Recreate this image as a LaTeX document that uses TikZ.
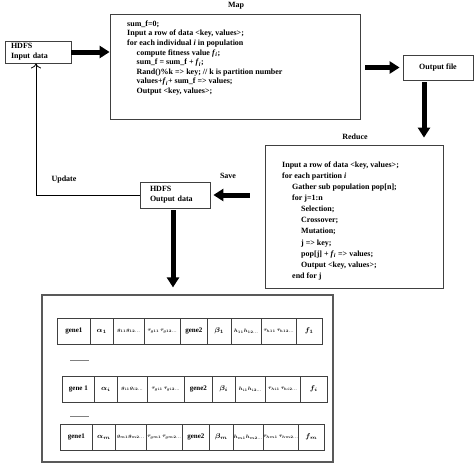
\documentclass[tikz,border=0pt]{standalone}
\usepackage{fontspec}
\setmainfont{Liberation Serif}
\usetikzlibrary{arrows.meta}
\newcommand{\ind}{\hspace*{9.5pt}}
\newcommand{\sm}[1]{\scalebox{0.72}{$#1$}}
\newcommand{\gcell}[5]{\node[cell, minimum width={#4pt-#3pt}] (#1) at (#3,#2) {#5};}
\begin{document}
\begin{tikzpicture}[x=1pt,y=-1pt,
  box/.style={draw=black!75, line width=0.8pt, inner sep=0pt},
  lbl/.style={font=\fontsize{8}{9.6}\selectfont\bfseries, inner sep=0pt},
  code/.style={font=\fontsize{8}{9.6}\selectfont\bfseries, align=left, anchor=north west, inner sep=0pt},
  bigarrow/.style={line width=5pt, -{Triangle[length=10pt,width=12pt]}},
  cell/.style={draw=black!75, line width=0.7pt, minimum height=26pt, inner sep=0pt, anchor=west, font=\fontsize{7}{8}\selectfont\bfseries\boldmath},
]
\useasboundingbox (0,0) rectangle (474,466);

% boxes
\node[box, minimum width=66pt, minimum height=22pt, text width=54pt, inner xsep=6pt, align=left, lbl] (in) at (38,52) {HDFS\\Input data};
\node[box, minimum width=250pt, minimum height=105pt] (map) at (235,66.5) {};
\node[lbl] (maplbl) at (236,6) {Map};
\node[code] (mapcode) at (127,20.5) {sum\_f=0;\\
Input a row of data <key, values>;\\
for each individual \textit{i} in population\\
\ind compute fitness value \textit{f}\textsubscript{\textit{i}};\\
\ind sum\_f = sum\_f + \textit{f}\textsubscript{\textit{i}};\\
\ind Rand()\%k => key; // k is partition number\\
\ind values+\textit{f}\textsubscript{\textit{i}}+ sum\_f => values;\\
\ind Output <key, values>;};
\node[box, minimum width=70pt, minimum height=25pt, lbl] (out) at (438,67.5) {Output file};
\node[lbl] (redlbl) at (355,137) {Reduce};
\node[box, minimum width=178pt, minimum height=143pt] (red) at (354,216.5) {};
\node[code, font=\fontsize{8}{11.1}\selectfont\bfseries] (redcode) at (282,161.5) {Input a row of data <key, values>;\\
for each partition \textit{i}\\
\hspace*{10pt}Gather sub population pop[n];\\
\hspace*{10pt}for j=1:n\\
\hspace*{19pt}Selection;\\
\hspace*{19pt}Crossover;\\
\hspace*{19pt}Mutation;\\
\hspace*{19pt}j => key;\\
\hspace*{19pt}pop[j] + \textit{f}\textsubscript{\textit{i}} => values;\\
\hspace*{19pt}Output <key, values>;\\
\hspace*{10pt}end for j};
\node[box, minimum width=70pt, minimum height=26pt, text width=50pt, inner xsep=10pt, align=left, lbl] (hout) at (175,195) {HDFS\\Output data};
\node[lbl] (savelbl) at (228,176) {Save};
\node[lbl] (updlbl) at (64,180) {Update};
\node[draw=black!65, line width=1.2pt, minimum width=291pt, minimum height=167pt, inner sep=0pt] (pop) at (187.5,378.5) {};

% arrows
\draw[bigarrow] (in.east) -- (in.east -| map.west);
\draw[bigarrow, shorten <=5pt, shorten >=3pt] (map.east |- out.west) -- (out.west);
\draw[bigarrow, shorten <=2pt, shorten >=7pt] ([xshift=-14pt]out.south) -- ([xshift=-14pt]out.south |- red.north);
\draw[bigarrow, shorten <=15pt, shorten >=3pt] (red.west |- hout.east) -- (hout.east);
\draw[bigarrow, shorten <=2pt, shorten >=7pt] ([xshift=-2pt]hout.south) -- ([xshift=-2pt]hout.south |- pop.north);
\draw[line width=0.8pt, -{To[length=5pt,width=10pt]}] (hout.west) -| ([xshift=-2pt]in.south);

% row 1
\gcell{a1}{331}{57}{90}{gene1}
\gcell{a2}{331}{90}{113}{$\alpha_1$}
\gcell{a3}{331}{113}{144}{\sm{g_{11}g_{12\ldots}}}
\gcell{a4}{331}{144}{180}{\sm{\tau_{g11}\,\tau_{g12\ldots}}}
\gcell{a5}{331}{180}{207}{gene2}
\gcell{a6}{331}{207}{231}{$\beta_1$}
\gcell{a7}{331}{231}{261}{\sm{h_{11}h_{12\ldots}}}
\gcell{a8}{331}{261}{296}{\sm{\tau_{h11}\,\tau_{h12\ldots}}}
\gcell{a9}{331}{296}{322}{$f_1$}
% row 2
\gcell{b1}{389}{62}{94}{gene 1}
\gcell{b2}{389}{94}{117}{$\alpha_i$}
\gcell{b3}{389}{117}{147}{\sm{g_{i1}g_{i2\ldots}}}
\gcell{b4}{389}{147}{184}{\sm{\tau_{gi1}\,\tau_{gi2\ldots}}}
\gcell{b5}{389}{184}{212}{gene2}
\gcell{b6}{389}{212}{235}{$\beta_i$}
\gcell{b7}{389}{235}{265}{\sm{h_{i1}h_{i2\ldots}}}
\gcell{b8}{389}{265}{300}{\sm{\tau_{hi1}\,\tau_{hi2\ldots}}}
\gcell{b9}{389}{300}{327}{$f_i$}
% row 3
\gcell{c1}{437}{60}{92}{gene1}
\gcell{c2}{437}{92}{115}{$\alpha_m$}
\gcell{c3}{437}{115}{146}{\sm{g_{m1}g_{m2\ldots}}}
\gcell{c4}{437}{146}{182}{\sm{\tau_{gm1}\,\tau_{gm2\ldots}}}
\gcell{c5}{437}{182}{209}{gene2}
\gcell{c6}{437}{209}{233}{$\beta_m$}
\gcell{c7}{437}{233}{263}{\sm{h_{m1}h_{m2\ldots}}}
\gcell{c8}{437}{263}{298}{\sm{\tau_{hm1}\,\tau_{hm2\ldots}}}
\gcell{c9}{437}{298}{324}{$f_m$}

% separators
\draw[black!50, line width=0.8pt] (70,360) -- (89,360);
\draw[black!50, line width=0.8pt] (70,416) -- (89,416);
\end{tikzpicture}
\end{document}
